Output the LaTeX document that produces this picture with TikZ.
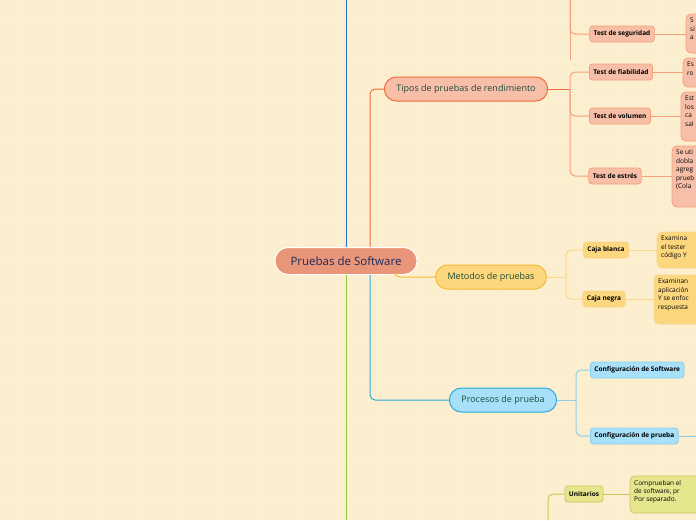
\documentclass[tikz,border=0pt]{standalone}
\usepackage{fontspec}
\setmainfont{Open Sans}
\definecolor{bg}{HTML}{FCEFD0}
\definecolor{dotc}{HTML}{EEDDB8}
\definecolor{rootf}{HTML}{E8957A}
\definecolor{navy}{HTML}{1E2A5A}
\definecolor{txtg}{HTML}{1D4A3A}
\definecolor{orl}{HTML}{F26B3A}
\definecolor{orf}{HTML}{F8BFA8}
\definecolor{orl2}{HTML}{F5A07A}
\definecolor{yel}{HTML}{F5B82E}
\definecolor{yelf}{HTML}{FDD77E}
\definecolor{yell}{HTML}{F9D68A}
\definecolor{blu}{HTML}{2BA8E0}
\definecolor{bluf}{HTML}{A8E0FA}
\definecolor{blul}{HTML}{8CCFEA}
\definecolor{grn}{HTML}{8CC63F}
\definecolor{grf}{HTML}{E6E68E}
\definecolor{grl}{HTML}{C8C85A}
\definecolor{vblue}{HTML}{1F6FD0}
\tikzset{
 main/.style={rounded corners=12pt,minimum height=24pt,inner xsep=12pt,font=\fontsize{9}{10}\selectfont,text=txtg,line width=1pt},
 sub/.style={rounded corners=3pt,minimum height=16pt,inner xsep=4pt,font=\fontsize{6.5}{7}\selectfont\bfseries,text=black,line width=0.8pt},
 desc/.style={anchor=north west,align=left,inner sep=4pt,font=\fontsize{6.5}{8.4}\selectfont,text=black},
 conn/.style={line width=1pt,rounded corners=5pt},
}
\begin{document}
\begin{tikzpicture}[x=1pt,y=-1pt]
\fill[bg] (0,0) rectangle (696,520);
\useasboundingbox (0,0) rectangle (696,520);
\clip (0,0) rectangle (696,520);
\foreach \i in {0,...,69}{\foreach \j in {0,...,52}{\fill[dotc] (\i*10+5,\j*10+5) circle (0.7pt);}}
% left vertical lines
\coordinate (vt) at (346,0); \coordinate (vb) at (346,520);
% root
\node[fill=rootf,draw=white,line width=1pt,rounded corners=13pt,minimum width=142pt,minimum height=27pt,font=\fontsize{11.5}{12}\selectfont,text=navy] (root) at (346,261) {Pruebas de Software};
\draw[vblue,line width=1pt] (vt) -- (root.north);
\draw[grn,line width=1pt] (root.south) -- (vb);
% main branches
\node[main,fill=orf,draw=orl] (tip) at (466,89) {Tipos de pruebas de rendimiento};
\node[main,fill=yelf,draw=yel] (met) at (491,277) {Metodos de pruebas};
\node[main,fill=bluf,draw=blu] (pro) at (503,400) {Procesos de prueba};
\draw[conn,orl] (370,247) |- (tip.west);
\draw[conn,yel] (395,275) -- (395,277) -- (met.west);
\draw[conn,blu] (370,275) |- (pro.west);
% test nodes
\node[sub,fill=orf,draw=orl2] (seg) at (622,34) {Test de seguridad};
\node[sub,fill=orf,draw=orl2] (fia) at (621,72) {Test de fiabilidad};
\node[sub,fill=orf,draw=orl2] (vol) at (620,116) {Test de volumen};
\node[sub,fill=orf,draw=orl2] (est) at (615,176) {Test de estrés};
\coordinate (tj) at (570,89); \coordinate (ttop) at (570,0);
\draw[orl,line width=1pt] (tip.east) -- (tj);
\draw[conn,orl2] (ttop) |- (seg.west);
\draw[conn,orl2] (tj) |- (fia.west);
\draw[conn,orl2] (tj) |- (vol.west);
\draw[conn,orl2] (tj) |- (est.west);
\draw[conn,orl2] (570,0) -- (570,60);
% descriptions (orange)
\tikzset{od/.style={fill=orf,draw=orl2,line width=0.8pt,rounded corners=5pt}}
\draw[od] (686,14) rectangle (740,53); \node[desc] (dseg) at (686,14) {S\\si\\a};
\draw[od] (683,58) rectangle (740,87); \node[desc] (dfia) at (683,58) {Es\\ro};
\draw[od] (681,92) rectangle (740,141); \node[desc] (dvol) at (681,92) {Est\\los\\ca\\sal};
\draw[od] (672,146) rectangle (740,207); \node[desc] (dest) at (672,146) {Se uti\\dobla\\agreg\\prueb\\(Cola};
\draw[orl2,line width=0.8pt] (seg.east) -- (686,34);
\draw[orl2,line width=0.8pt] (fia.east) -- (683,72);
\draw[orl2,line width=0.8pt] (vol.east) -- (681,116);
\draw[orl2,line width=0.8pt] (est.east) -- (672,176);
% metodos
\node[sub,fill=yelf,draw=yell] (cb) at (606,250) {Caja blanca};
\node[sub,fill=yelf,draw=yell] (cn) at (604,299) {Caja negra};
\coordinate (mj) at (566,277);
\draw[yell,line width=1pt] (met.east) -- (mj);
\draw[conn,yell] (mj) |- (cb.west);
\draw[conn,yell] (mj) |- (cn.west);
\tikzset{yd/.style={fill=yelf,draw=yell,line width=0.8pt,rounded corners=5pt}}
\draw[yd] (657,232) rectangle (740,268); \node[desc] (dcb) at (657,232) {Examina\\el tester\\código Y};
\draw[yd] (654,275) rectangle (740,324); \node[desc] (dcn) at (654,275) {Examinan\\aplicación\\Y se enfoc\\respuesta};
\draw[yell,line width=0.8pt] (cb.east) -- (657,250);
\draw[yell,line width=0.8pt] (cn.east) -- (654,299);
% procesos
\node[sub,fill=bluf,draw=blul,anchor=west] (cs) at (590,370) {Configuración de Software};
\node[sub,fill=bluf,draw=blul,anchor=west] (cp) at (590,436) {Configuración de prueba};
\coordinate (pj) at (576,400);
\draw[blul,line width=1pt] (pro.east) -- (pj);
\draw[conn,blul] (pj) |- (cs.west);
\draw[conn,blul] (pj) |- (cp.west);
\draw[blul,line width=0.8pt] (cp.east) -- (700,436);
% unitarios
\node[sub,fill=grf,draw=grl] (uni) at (584,494) {Unitarios};
\draw[conn,grl] (548,520) |- (uni.west);
\draw[fill=grf,draw=grl,line width=0.8pt,rounded corners=5pt] (630,476) rectangle (740,513);
\node[desc] (duni) at (630,476) {Comprueban el\\de software, pr\\Por separado.};
\draw[grl,line width=0.8pt] (uni.east) -- (630,494);
\end{tikzpicture}
\end{document}
